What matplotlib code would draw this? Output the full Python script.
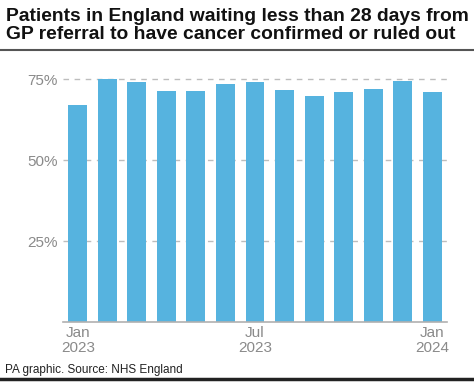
import numpy as np
import matplotlib
matplotlib.use("Agg")
import matplotlib.pyplot as plt
from matplotlib.lines import Line2D

plt.rcParams['font.family'] = ['Liberation Sans', 'DejaVu Sans']

# monthly share of patients told within 28 days (%)
months = ["Jan 2023", "Feb 2023", "Mar 2023", "Apr 2023", "May 2023", "Jun 2023",
          "Jul 2023", "Aug 2023", "Sep 2023", "Oct 2023", "Nov 2023", "Dec 2023",
          "Jan 2024"]
values = [67.0, 75.0, 74.2, 71.3, 71.3, 73.5, 74.1, 71.6, 69.8, 71.1, 71.9, 74.4, 70.9]
tick_idx = [0, 6, 12]
tick_labels = ["Jan\n2023", "Jul\n2023", "Jan\n2024"]
y_ticks = [25, 50, 75]
y_labels = ["25%", "50%", "75%"]

fig = plt.figure(figsize=(4.74, 3.82), dpi=100)
ax = fig.add_axes([0.133, 0.157, 0.81, 0.6614])

x = np.arange(len(values))
ax.bar(x, values, width=0.64, color="#56b3df", zorder=2)

ax.set_xlim(-0.5, 12.5)
ax.set_ylim(0, 78)
ax.set_yticks(y_ticks)
ax.set_yticklabels(y_labels, color="#8a8a8a", fontsize=11)
ax.set_xticks(tick_idx)
ax.set_xticklabels(tick_labels, color="#8a8a8a", fontsize=11, linespacing=1.05)
ax.tick_params(length=0, pad=4)
ax.tick_params(axis="x", pad=3)

ax.yaxis.grid(True, linestyle=(0, (4, 4)), color="#bdbdbd", linewidth=1, zorder=0)
for s in ["top", "right", "left"]:
    ax.spines[s].set_visible(False)
ax.spines["bottom"].set_color("#b0b0b0")
ax.spines["bottom"].set_linewidth(1.2)

fig.text(0.013, 0.98, "Patients in England waiting less than 28 days from\nGP referral to have cancer confirmed or ruled out",
         ha="left", va="top", fontsize=13.9, fontweight="bold", color="#111111", linespacing=1.1)
fig.add_artist(Line2D([0, 1], [1 - 50 / 382, 1 - 50 / 382], color="#555555", linewidth=1.5))
fig.text(0.011, 1 - 370 / 382, "PA graphic. Source: NHS England", ha="left", va="center",
         fontsize=8.5, color="#222222")
fig.add_artist(Line2D([0, 1], [1 - 379 / 382, 1 - 379 / 382], color="#222222", linewidth=2.5))

fig.savefig("out.png", dpi=100, facecolor="white")
